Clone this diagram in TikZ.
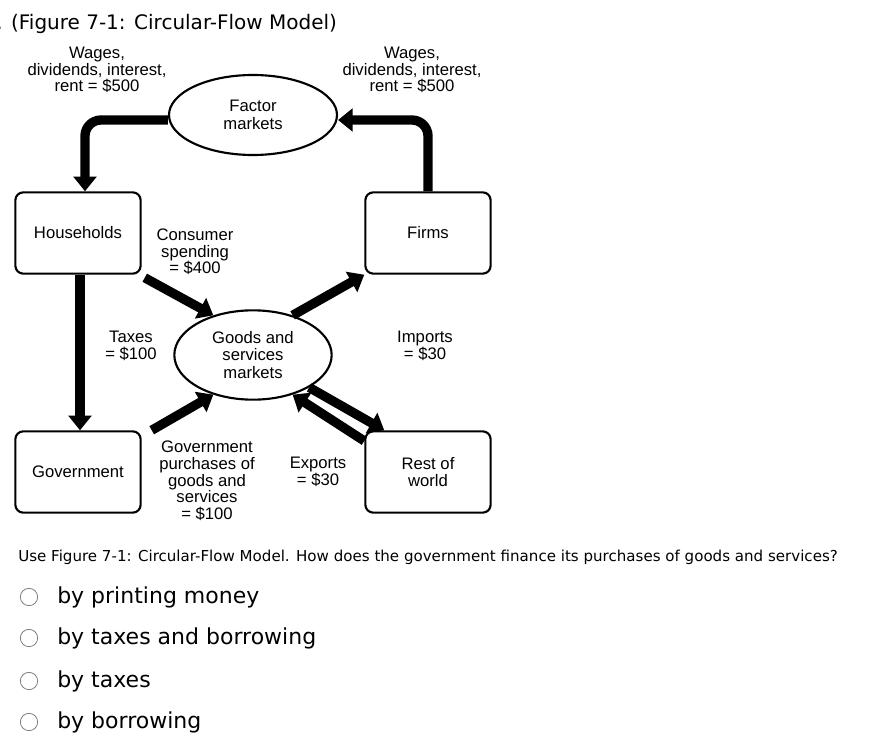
\documentclass[tikz,border=0pt]{standalone}
\usepackage{fontspec}
\setmainfont{Liberation Sans}
\newfontfamily\verd{DejaVu Sans}
\usetikzlibrary{arrows.meta,shapes.geometric}
\begin{document}
\begin{tikzpicture}[x=0.75pt,y=-0.75pt,
  box/.style={draw,line width=1.6pt,rounded corners=6pt,minimum width=94pt,minimum height=61pt,font=\fontsize{12.5}{13}\selectfont},
  oval/.style={draw,ellipse,line width=1.6pt,font=\fontsize{12.5}{13}\selectfont,align=center},
  flow/.style={line width=7pt,-{Triangle[length=11pt,width=17pt]},rounded corners=12pt},
  lbl/.style={font=\fontsize{12.5}{12.5}\selectfont,align=center,inner sep=0pt},
  opt/.style={font=\verd\fontsize{16.5}{18}\selectfont,anchor=west,inner sep=0pt}]
\useasboundingbox (0,0) rectangle (895,752);
\node[font=\verd\fontsize{15}{16}\selectfont,anchor=west,inner sep=0pt] (title) at (-4,24) {. (Figure 7-1: Circular-Flow Model)};
\node[oval,minimum width=126pt,minimum height=60pt] (fm) at (253,115) {Factor\\markets};
\node[oval,minimum width=118pt,minimum height=67pt] (gm) at (253,355) {Goods and\\services\\markets};
\node[box] (hh) at (78,233) {Households};
\node[box] (fi) at (428,233) {Firms};
\node[box] (gov) at (78,472) {Government};
\node[box,align=center] (row) at (428,472) {Rest of\\world};
\coordinate (c1) at (85,120);
\coordinate (c2) at (428,120);
\coordinate (v1) at (80,200);
\draw[flow] (c1 -| fm.west) -- (c1) -- (c1 |- hh.north);
\draw[flow] (fi.north) -- (c2) -- (c2 -| fm.east);
\draw[flow,rounded corners=0pt] (v1 |- hh.south) -- (v1 |- gov.north);
\draw[flow,rounded corners=0pt] (hh.south east) ++(3,3) coordinate (s1) (s1) -- (gm.135);
\draw[flow,rounded corners=0pt] (gov.north east) ++(10,0) coordinate (s2) (s2) -- (gm.225);
\draw[flow,rounded corners=0pt] (gm.45) -- (fi.south west);
\draw[flow,rounded corners=0pt] (gm.-30) -- ([xshift=15]row.north west);
\draw[flow,rounded corners=0pt] ([yshift=-8]row.north west) -- (gm.-45);
\node[lbl] (w1) at (97,70) {Wages,\\dividends, interest,\\rent = \$500};
\node[lbl] (w2) at (412,70) {Wages,\\dividends, interest,\\rent = \$500};
\node[lbl] (cs) at (195,252) {Consumer\\spending\\= \$400};
\node[lbl] (tx) at (131,346) {Taxes\\= \$100};
\node[lbl] (im) at (425,346) {Imports\\= \$30};
\node[lbl] (gp) at (207,481) {Government\\purchases of\\goods and\\services\\= \$100};
\node[lbl] (ex) at (318,472) {Exports\\= \$30};
\node[font=\verd\fontsize{11.3}{12}\selectfont,anchor=west,inner sep=0pt] (q) at (18,557) {Use Figure 7-1: Circular-Flow Model. How does the government finance its purchases of goods and services?};
\foreach \y/\t/\n in {597/by printing money/a,638/by taxes and borrowing/b,681/by taxes/c,722/by borrowing/d}{
  \node[draw=gray,circle,minimum size=13pt,inner sep=0pt,line width=0.6pt] (r\n) at (29,\y) {};
  \node[opt] (o\n) at (57,\y) {\t};
}
\end{tikzpicture}
\end{document}
